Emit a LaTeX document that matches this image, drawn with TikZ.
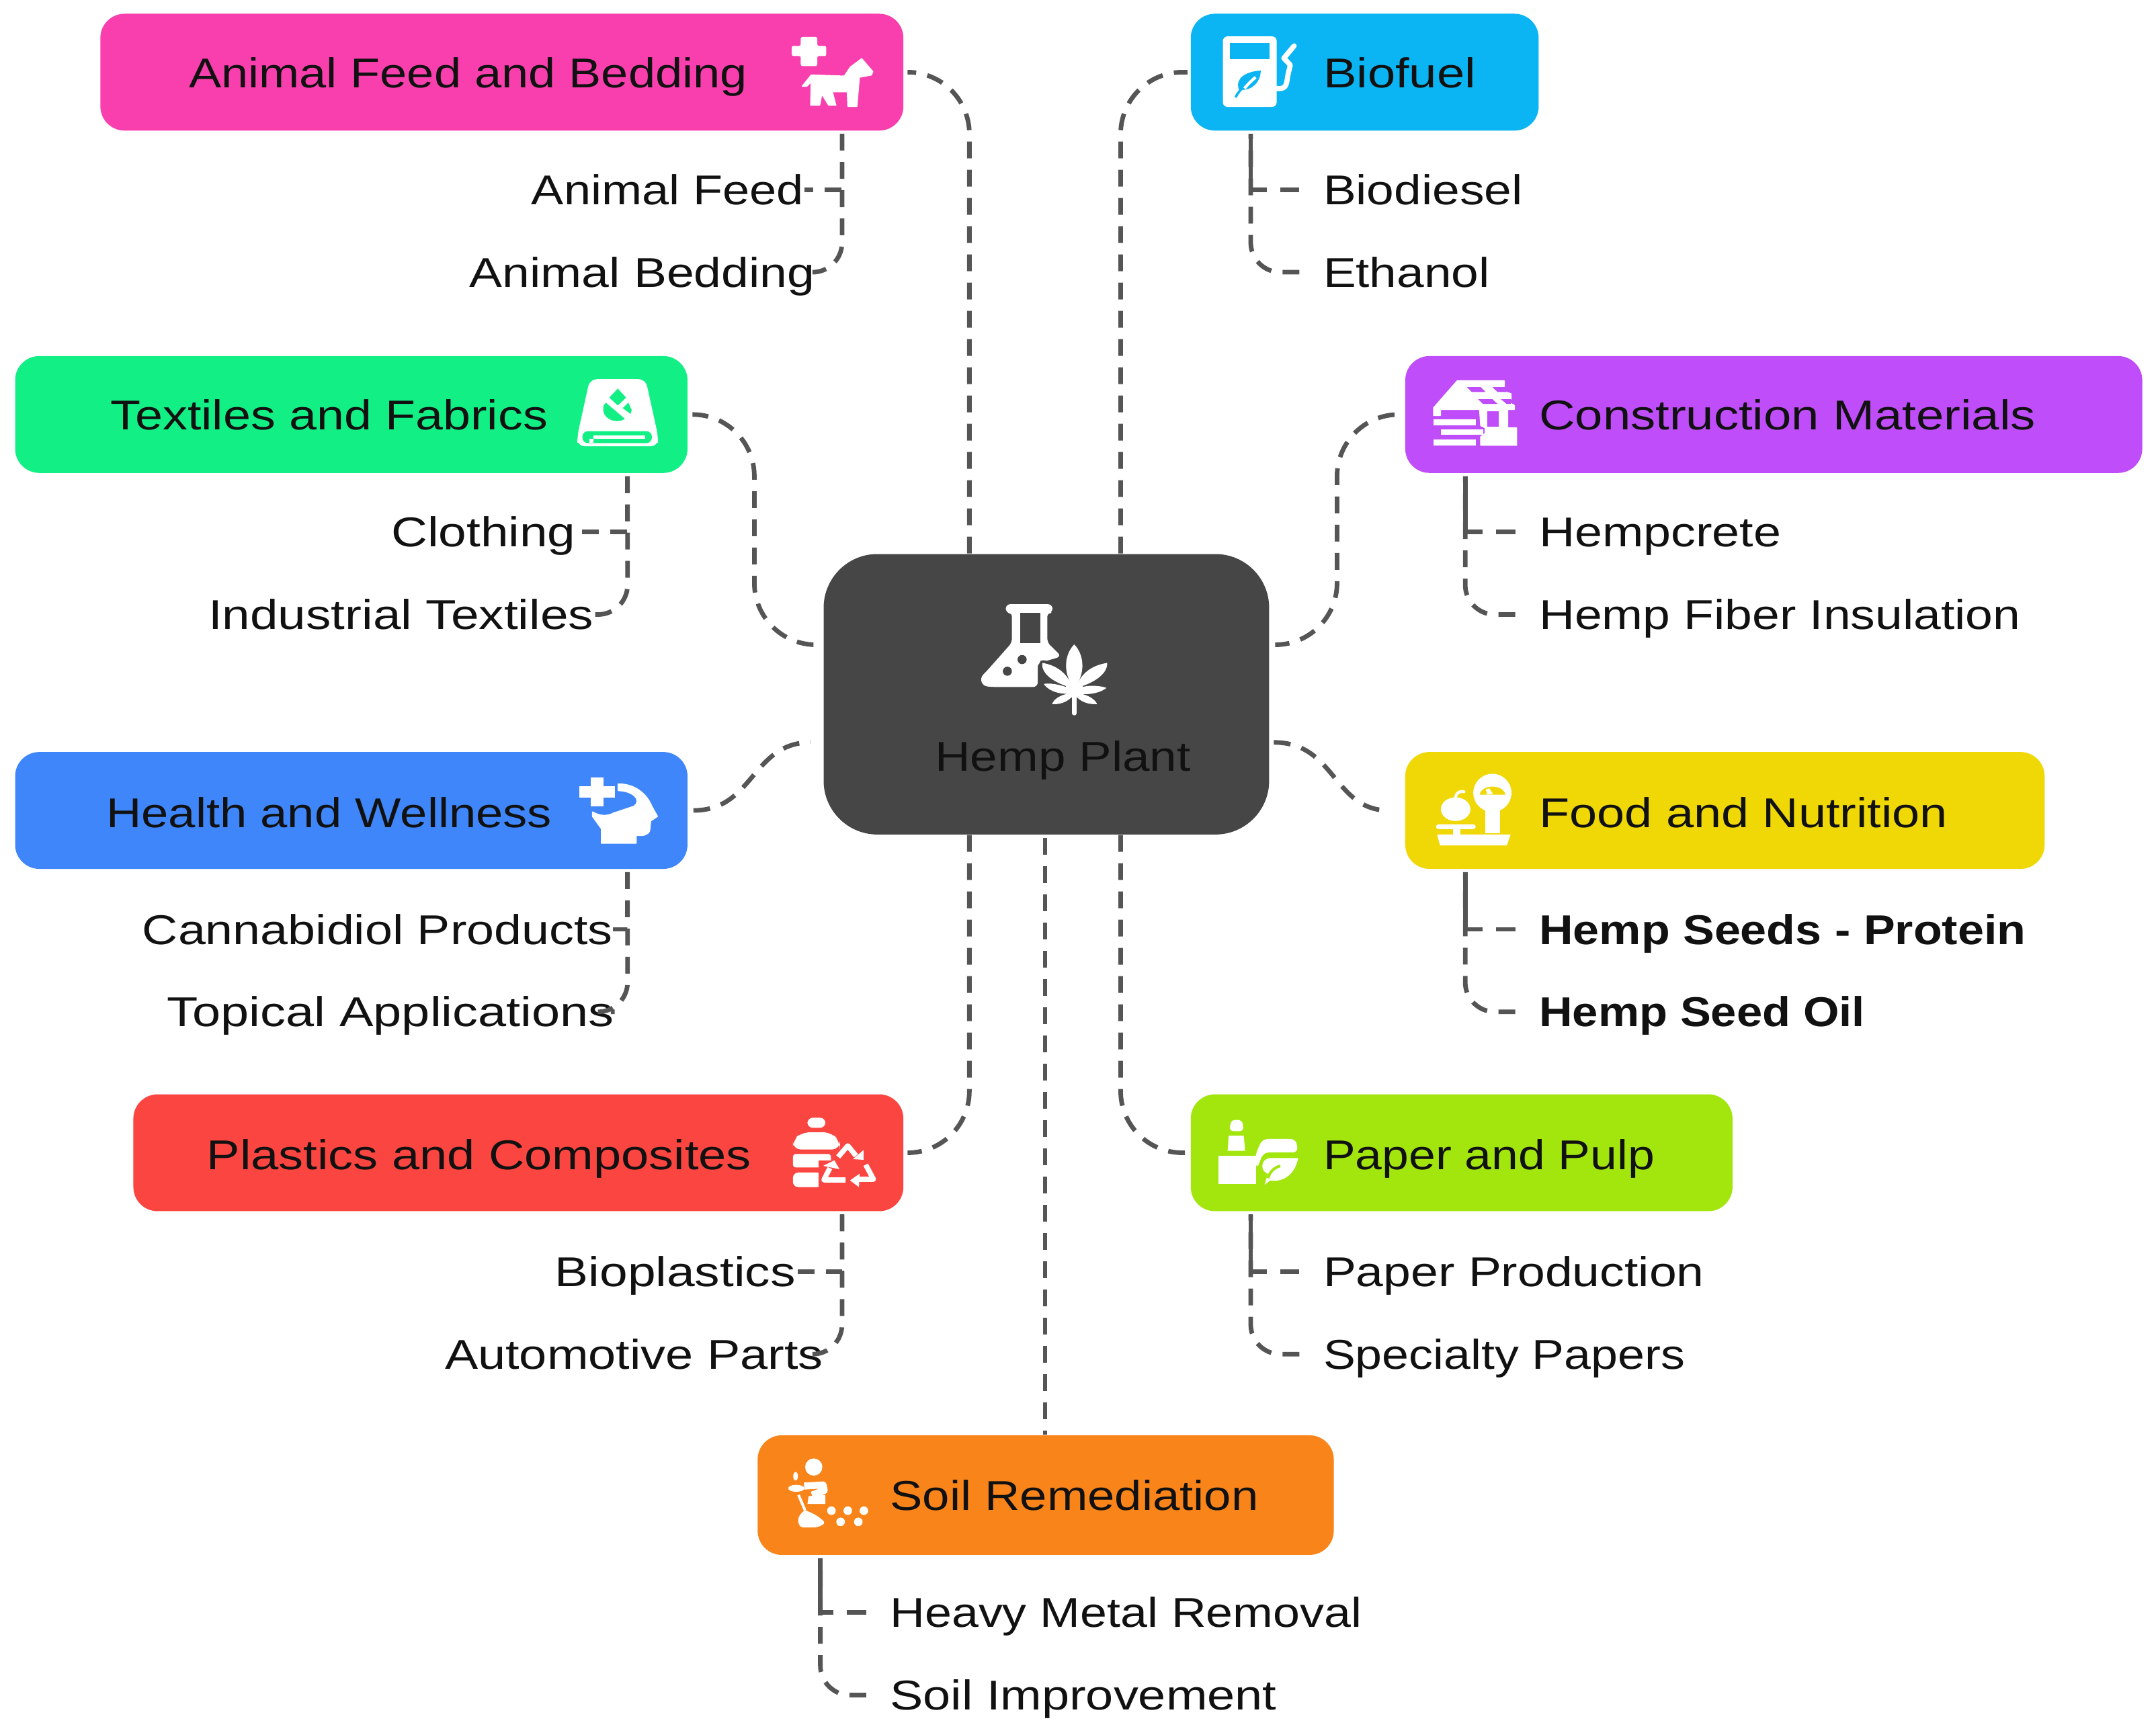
\documentclass[tikz,border=0pt]{standalone}
\usepackage{fontspec}
\usepackage{graphicx}
\setmainfont{Liberation Sans}
\usetikzlibrary{calc}
\def\u{0.5115pt}
\newcommand\fitw[2]{\resizebox{\dimexpr 0.5115pt*#1\relax}{\height}{#2}}
\definecolor{cPink}{HTML}{F93FAE}
\definecolor{cSky}{HTML}{0BB5F3}
\definecolor{cGreen}{HTML}{12EF85}
\definecolor{cPurple}{HTML}{BF4DF9}
\definecolor{cBlue}{HTML}{3F86FA}
\definecolor{cYellow}{HTML}{EFD805}
\definecolor{cRed}{HTML}{FB4540}
\definecolor{cLime}{HTML}{A2E60E}
\definecolor{cOrange}{HTML}{F8841A}
\definecolor{cDark}{HTML}{464646}
\definecolor{cLine}{HTML}{555555}
\definecolor{cInk}{HTML}{111111}
\tikzset{
  box/.style={rectangle,rounded corners=9pt,inner sep=0pt,draw=none,minimum height=85*\u},
  lab/.style={inner sep=0pt,text=cInk,font=\fontsize{15.5}{18}\selectfont,text height=14pt,text depth=3pt},
  conn/.style={draw=cLine,line width=1.7pt,dash pattern=on 6.25pt off 4.25pt},
  main/.style={conn,rounded corners=23pt},
  sub/.style={conn,rounded corners=11pt},
  subS/.style={conn},
  subR/.style={conn,dash pattern=on 7.2pt off 5pt on 150pt,shorten <=8.7pt},
  subC/.style={conn,rounded corners=11pt,shorten <=8.7pt},
  ic/.style={fill=white,draw=white,line width=.4pt,line join=round},
}
\begin{document}
\begin{tikzpicture}[x=\u,y=-\u]
\useasboundingbox[fill=white] (0,0) rectangle (1568,1260.5);
% boxes
\node[box,fill=cDark,rounded corners=20pt,minimum width=324*\u,minimum height=204*\u] (center) at (761,505) {};
\node[box,fill=cPink,minimum width=584*\u] (animal) at (365,52.5) {};
\node[box,fill=cSky,minimum width=253*\u] (biofuel) at (992.5,52.5) {};
\node[box,fill=cGreen,minimum width=489*\u] (textiles) at (255.5,301.5) {};
\node[box,fill=cPurple,minimum width=536*\u] (construction) at (1290,301.5) {};
\node[box,fill=cBlue,minimum width=489*\u] (health) at (255.5,589.5) {};
\node[box,fill=cYellow,minimum width=465*\u] (food) at (1254.5,589.5) {};
\node[box,fill=cRed,minimum width=560*\u] (plastics) at (377,838.5) {};
\node[box,fill=cLime,minimum width=394*\u] (paper) at (1063,838.5) {};
\node[box,fill=cOrange,minimum width=419*\u,minimum height=87*\u] (soil) at (760.5,1087.5) {};
% headings
\node[lab,anchor=center] (centerT) at (773,550) {\fitw{186}{Hemp Plant}};
\node[lab,anchor=west] (animalT) at (137,53) {\fitw{406}{Animal Feed and Bedding}};
\node[lab,anchor=west] (biofuelT) at (962,53) {\fitw{111}{Biofuel}};
\node[lab,anchor=west] (textilesT) at (80,302) {\fitw{318}{Textiles and Fabrics}};
\node[lab,anchor=west] (constructionT) at (1119,302) {\fitw{361}{Construction Materials}};
\node[lab,anchor=west] (healthT) at (77,591) {\fitw{324}{Health and Wellness}};
\node[lab,anchor=west] (foodT) at (1119,591) {\fitw{297}{Food and Nutrition}};
\node[lab,anchor=west] (plasticsT) at (150,840) {\fitw{396}{Plastics and Composites}};
\node[lab,anchor=west] (paperT) at (962,840) {\fitw{241}{Paper and Pulp}};
\node[lab,anchor=west] (soilT) at (647,1088) {\fitw{268}{Soil Remediation}};
% sub labels
\node[lab,anchor=east] (feed) at (585,138) {\fitw{198}{Animal Feed}};
\node[lab,anchor=east] (bedding) at (593,198) {\fitw{251}{Animal Bedding}};
\node[lab,anchor=east] (clothing) at (419,387) {\fitw{134}{Clothing}};
\node[lab,anchor=east] (indtex) at (432,447) {\fitw{280}{Industrial Textiles}};
\node[lab,anchor=east] (cbd) at (446,676) {\fitw{342}{Cannabidiol Products}};
\node[lab,anchor=east] (topical) at (447,736) {\fitw{325}{Topical Applications}};
\node[lab,anchor=east] (bioplastics) at (579,925) {\fitw{175}{Bioplastics}};
\node[lab,anchor=east] (auto) at (599,985) {\fitw{275}{Automotive Parts}};
\node[lab,anchor=west] (biodiesel) at (962,138) {\fitw{145}{Biodiesel}};
\node[lab,anchor=west] (ethanol) at (962,198) {\fitw{121}{Ethanol}};
\node[lab,anchor=west] (hempcrete) at (1119,387) {\fitw{176}{Hempcrete}};
\node[lab,anchor=west] (insul) at (1119,447) {\fitw{350}{Hemp Fiber Insulation}};
\node[lab,anchor=west,font=\fontsize{15.5}{18}\selectfont\bfseries] (seeds) at (1119,676) {\fitw{354}{Hemp Seeds - Protein}};
\node[lab,anchor=west,font=\fontsize{15.5}{18}\selectfont\bfseries] (oil) at (1119,736) {\fitw{237}{Hemp Seed Oil}};
\node[lab,anchor=west] (pprod) at (962,925) {\fitw{277}{Paper Production}};
\node[lab,anchor=west] (spec) at (962,985) {\fitw{263}{Specialty Papers}};
\node[lab,anchor=west] (heavy) at (647,1173) {\fitw{343}{Heavy Metal Removal}};
\node[lab,anchor=west] (improve) at (647,1233) {\fitw{281}{Soil Improvement}};
% main connectors
\draw[main,shorten >=2pt] ($(center.north)+(-56,0)$) |- (animal.east);
\draw[main,shorten >=1pt] ($(center.north)+(54,0)$) |- (biofuel.west);
\draw[main,shorten >=2pt] ($(center.south)+(-56,0)$) |- (plastics.east);
\draw[main,shorten >=1pt] ($(center.south)+(54,0)$) |- (paper.west);
\draw[conn,shorten <=1pt] ($(center.south)+(-1,0)$) -- ($(soil.north)+(-0.5,0)$);
\draw[main,shorten <=2pt,shorten >=1pt] (textiles.east) -| ($(center.west)+(-50,-36)$) -- ($(center.west)+(0,-36)$);
\draw[main,shorten <=3pt,shorten >=1pt] ($(center.east)+(0,-36)$) -- ($(center.east)+(49,-36)$) |- (construction.west);
\draw[conn,shorten <=2pt] (health.east) .. controls ($(health.east)+(48,0)$) and ($(center.west)+(-52,35)$) .. ($(center.west)+(-9,35)$);
\draw[conn,shorten >=6pt] ($(center.east)+(3,35)$) .. controls ($(center.east)+(48,35)$) and ($(food.west)+(-52,0)$) .. (food.west);
% branches, left side
\draw[subS] ($(animal.south east)+(-45,2)$) |- (feed.east);
\draw[sub] ($(animal.south east)+(-45,2)$) |- (bedding.east);
\draw[subS] ($(textiles.south east)+(-44,2)$) |- (clothing.east);
\draw[sub] ($(textiles.south east)+(-44,2)$) |- (indtex.east);
\draw[subS] ($(health.south east)+(-44,2)$) |- (cbd.east);
\draw[sub] ($(health.south east)+(-44,2)$) |- (topical.east);
\draw[subS] ($(plastics.south east)+(-45,2)$) |- (bioplastics.east);
\draw[sub] ($(plastics.south east)+(-45,2)$) |- (auto.east);
% branches, right side
\draw[subR] (biodiesel.west) -| ($(biofuel.south west)+(44,2)$);
\draw[subC] (ethanol.west) -| ($(biofuel.south west)+(44,2)$);
\draw[subR] (hempcrete.west) -| ($(construction.south west)+(44,2)$);
\draw[subC] (insul.west) -| ($(construction.south west)+(44,2)$);
\draw[subR] (seeds.west) -| ($(food.south west)+(44,2)$);
\draw[subC] (oil.west) -| ($(food.south west)+(44,2)$);
\draw[subR] (pprod.west) -| ($(paper.south west)+(44,2)$);
\draw[subC] (spec.west) -| ($(paper.south west)+(44,2)$);
\draw[subR] (heavy.west) -| ($(soil.south west)+(46,2)$);
\draw[subC] (improve.west) -| ($(soil.south west)+(46,2)$);
% --- icons ---
% dog
\begin{scope}[shift={(537.6,0)},x=.1117pt,y=-.0833pt]
\fill[white,rounded corners=.6pt] (205,205)--(205,165)--(260,165)--(260,205)--(290,205)--(290,250)--(260,250)--(260,295)--(205,295)--(205,250)--(175,250)--(175,205)--cycle;
\path[ic] (445,320)--(408,262)--(370,300)--(350,340)--(240,335)--(210,385)--(225,385)--(240,365)--(238,470)--(268,470)--(275,420)--(298,470)--(322,470)--(310,410)--(360,410)--(362,475)--(392,475)--(400,345)--(440,335)--cycle;
\end{scope}
% pump
\begin{scope}[shift={(830.9,0)},x=.0956pt,y=-.0833pt]
\path[ic,rounded corners=1.5pt] (315,165) rectangle (520,475);
\fill[cSky] (340,192) rectangle (495,265);
\fill[cSky] (460,315) .. controls (400,320) and (360,350) .. (375,400) .. controls (420,410) and (460,370) .. (460,315);
\draw[cSky,line width=.9pt] (362,435) .. controls (370,415) and (380,405) .. (390,390);
\draw[white,line width=1.1pt] (397,395) .. controls (410,375) and (425,360) .. (440,345);
\draw[white,line width=1.9pt,line cap=round,line join=round] (520,395) .. controls (560,400) and (560,380) .. (565,340) -- (575,290) -- (550,260) -- (590,205);
\end{scope}
% textile
\begin{scope}[shift={(391,254.2)},x=.0833pt,y=-.0833pt]
\path[ic,rounded corners=2.5pt] (235,135)--(480,135)--(535,385)--(535,430)--(180,430)--(180,385)--cycle;
\fill[cGreen,rounded corners=2pt] (200,365) rectangle (510,418);
\fill[white] (250,385) rectangle (480,400);
\fill[white] (232,400) rectangle (250,418);
\fill[cGreen] (358,175)--(395,215)--(358,250)--(320,215)--cycle;
\fill[cGreen] (405,238)--(420,270)--(415,288)--(380,262)--cycle;
\fill[cGreen] (305,238)--(390,310) .. controls (350,335) and (280,310) .. (295,250)--cycle;
\end{scope}
% construction
\begin{scope}[shift={(1026.4,254.2)},x=.0833pt,y=-.0833pt]
\path[ic] (100,260)--(205,140)--(415,140)--(415,165)--(350,165)--(445,198)--(445,222)--(410,222)--(460,250)--(460,268)--(430,268)--(430,350)--(470,350)--(470,428)--(310,428)--(310,390)--(330,375)--(330,350)--(310,340)--(305,268)--(130,268)--(130,295)--(100,295)--cycle;
\fill[cPurple] (248,168)--(310,168)--(332,190)--(270,190)--cycle;
\fill[cPurple] (362,168)--(415,168)--(425,190)--(385,190)--cycle;
\fill[cPurple] (298,222)--(362,222)--(385,243)--(320,243)--cycle;
\fill[cPurple] (400,222)--(445,222)--(445,243)--(425,243)--cycle;
\fill[cPurple] (340,275) rectangle (390,345);
\fill[white] (100,312) rectangle (288,338);
\fill[white] (132,357) rectangle (320,382);
\fill[white] (100,402) rectangle (288,428);
\end{scope}
% head
\begin{scope}[shift={(391,547.4)},x=.0833pt,y=-.0833pt]
\fill[white] (238,110) rectangle (295,240);
\fill[white] (185,150) rectangle (345,200);
\path[ic] (360,140) .. controls (440,140) and (490,190) .. (510,240)--(535,285)--(505,305)--(500,350) .. controls (490,370) and (470,372) .. (440,370)--(440,405)--(285,405)--(285,340)--(245,285)--(245,265) .. controls (280,285) and (310,285) .. (340,270)--(430,240) .. controls (470,210) and (420,170) .. (360,170)--cycle;
\end{scope}
% scale
\begin{scope}[shift={(1026.4,547.4)},x=.0833pt,y=-.0833pt]
\fill[white] (362,180) circle [radius=7.1pt];
\fill[cYellow] (305,188) .. controls (315,140) and (410,140) .. (420,188)--cycle;
\fill[white] (340,188)--(332,165)--(348,160)--(365,185)--cycle;
\fill[white] (330,240)--(395,240)--(395,360)--(330,360)--cycle;
\path[ic] (118,368)--(440,368)--(425,412)--(130,412)--cycle;
\fill[white,rounded corners=1pt] (110,320) rectangle (288,342);
\fill[white] (185,342) rectangle (220,368);
\fill[white] (198,253) ellipse [x radius=5.5pt,y radius=4.4pt];
\draw[white,line width=1.1pt,line cap=round] (198,200) .. controls (200,178) and (220,170) .. (235,175);
\end{scope}
% bottle and recycle
\begin{scope}[shift={(562,801.6)},x=.0833pt,y=-.0833pt]
\fill[white,rounded corners=2pt] (155,70) rectangle (235,115);
\fill[white,rounded corners=3pt] (90,212) -- (90,170) -- (130,135) -- (260,135) -- (300,175) -- (300,212) -- cycle;
\fill[white,rounded corners=1pt] (90,232) rectangle (260,292);
\fill[white,rounded corners=2pt] (90,315) rectangle (225,380);
\fill[cRed] (205,260) rectangle (270,390);
\draw[white,line width=1.9pt,line join=round] (292,245) -- (335,195) -- (372,240);
\fill[white] (358,255) -- (405,258) -- (405,215) -- cycle;
\draw[white,line width=1.9pt,line join=round] (415,280) -- (450,345) -- (385,345);
\fill[white] (388,320) -- (345,350) -- (385,380) -- cycle;
\draw[white,line width=1.9pt,line join=round] (325,348) -- (228,348) -- (255,295);
\fill[white] (225,285) -- (298,300) -- (275,260) -- cycle;
\end{scope}
% factory
\begin{scope}[shift={(870,801.6)},x=.0833pt,y=-.0833pt]
\fill[white,rounded corners=1.5pt] (148,130) -- (155,80) -- (205,80) -- (212,130) -- cycle;
\fill[white] (140,218) -- (145,150) -- (212,150) -- (218,218) -- cycle;
\fill[white] (100,240) -- (268,240) -- (268,365) -- (100,365) -- cycle;
\fill[white,rounded corners=2pt] (262,240) -- (295,165) -- (445,165) -- (455,225) -- (300,225) -- (270,300) -- cycle;
\fill[white] (455,250) .. controls (440,330) and (380,360) .. (330,350) -- (305,370) -- (320,320) .. controls (285,310) and (285,255) .. (330,250) -- cycle;
\draw[cLime,line width=1pt] (320,340) .. controls (330,310) and (345,295) .. (375,285);
\end{scope}
% soil
\begin{scope}[shift={(562,1050.8)},x=.0833pt,y=-.0833pt]
\fill[white] (183,100) circle [radius=3.2pt];
\fill[white,rounded corners=1pt] (92,122) rectangle (112,160);
\fill[white] (105,195) ellipse [x radius=3pt,y radius=1.3pt];
\draw[white,line width=2.6pt,line join=round] (140,185) -- (225,180) -- (230,205) -- (175,225);
\fill[white] (160,230) -- (235,225) -- (235,265) -- (155,265) -- cycle;
\draw[white,line width=1pt] (115,225) -- (145,295);
\fill[white,rounded corners=1.5pt] (110,330) -- (140,290) -- (195,315) -- (238,350) -- (200,370) -- (120,370) -- cycle;
\foreach \p in {(262,295),(335,295),(407,295),(303,345),(382,345)} \fill[white] \p circle [radius=1.6pt];
\end{scope}
% flask and leaf
\begin{scope}[shift={(576.7,391)},x=.1276pt,y=-.0833pt]
\path[ic,rounded corners=1.5pt] (622,300) -- (755,300) -- (755,335) -- (740,335) -- (740,470) -- (780,530) -- (712,560) -- (712,665) -- (580,665) .. controls (550,660) and (545,630) .. (565,600) -- (640,470) -- (640,335) -- (622,335) -- cycle;
\fill[cDark] (662,335) rectangle (722,470);
\fill[cDark] (668,545) ellipse [x radius=1.7pt,y radius=1.7pt];
\fill[cDark] (625,597) ellipse [x radius=1.7pt,y radius=1.7pt];
\def\lf#1{%
\path[#1] (820,670) .. controls (785,600) and (795,520) .. (820,480) .. controls (845,520) and (855,600) .. (820,670);
\path[#1] (815,670) .. controls (765,650) and (725,610) .. (728,562) .. controls (775,575) and (800,615) .. (815,670);
\path[#1] (825,670) .. controls (875,650) and (915,610) .. (915,562) .. controls (865,575) and (840,615) .. (825,670);
\path[#1] (815,680) .. controls (790,665) and (760,650) .. (733,655) .. controls (750,690) and (785,700) .. (815,695);
\path[#1] (825,680) .. controls (850,660) and (885,660) .. (912,672) .. controls (885,700) and (855,700) .. (825,695);
\path[#1] (815,695) .. controls (790,700) and (765,715) .. (757,742) .. controls (785,745) and (805,725) .. (815,705);
\path[#1] (825,695) .. controls (850,700) and (875,715) .. (885,742) .. controls (855,745) and (835,725) .. (825,705);
}
\lf{draw=cDark,line width=2.4pt,line join=round}
\lf{fill=white,draw=white,line width=.3pt,line join=round}
\fill[white] (795,650) rectangle (845,715);
\draw[white,line width=1.6pt,line cap=round] (820,680) -- (820,785);
\end{scope}
\end{tikzpicture}
\end{document}
